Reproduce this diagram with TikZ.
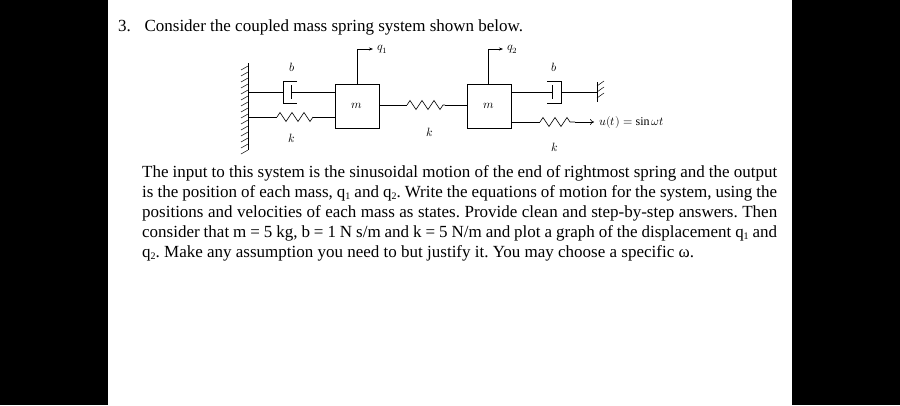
\documentclass[tikz,border=0pt]{standalone}
\usepackage{fontspec}
\setmainfont{Liberation Serif}
\usepackage{unicode-math}
\setmathfont{Latin Modern Math}
\usetikzlibrary{decorations.pathmorphing,arrows.meta}
\frenchspacing
\newcommand{\sbi}[1]{{\fontsize{10}{10}\selectfont\raisebox{-2pt}{#1}}}
\newcommand{\jline}[1]{\makebox[635pt][s]{#1}}
\begin{document}
\begin{tikzpicture}[x=1pt,y=-1pt,
  massbox/.style={draw,line width=0.6pt,minimum width=44pt,minimum height=44pt,inner sep=0pt,font=\fontsize{12}{12}\selectfont},
  ln/.style={line width=0.6pt},
  spr/.style={ln,decorate,decoration={zigzag,amplitude=4.5pt,segment length=12pt}},
  lab/.style={font=\fontsize{12}{12}\selectfont,inner sep=1pt},
  txt/.style={anchor=base west,inner sep=0pt,font=\fontsize{17}{20}\selectfont}]
\fill[black] (0,0) rectangle (900,405);
\fill[white] (108,0) rectangle (792,405);
\useasboundingbox (0,0) rectangle (900,405);
% text
\node[txt] (title) at (118,31) {3.\hspace{0.8em}Consider the coupled mass spring system shown below.};
\node[txt] (l1) at (142,177) {\jline{The input to this system is the sinusoidal motion of the end of rightmost spring and the output}};
\node[txt] (l2) at (142,197) {\jline{is the position of each mass, q\sbi1 and q\sbi2. Write the equations of motion for the system, using the}};
\node[txt] (l3) at (142,217) {\jline{positions and velocities of each mass as states. Provide clean and step-by-step answers. Then}};
\node[txt] (l4) at (142,237) {\jline{consider that m = 5 kg, b = 1 N s/m and k = 5 N/m and plot a graph of the displacement q\sbi1 and}};
\node[txt] (l5) at (142,257) {q\sbi2. Make any assumption you need to but justify it. You may choose a specific ω.};
% masses
\node[massbox] (m1) at (357,106) {$m$};
\node[massbox] (m2) at (489,106) {$m$};
% left wall
\coordinate (wt) at (248,63); \coordinate (wb) at (248,150);
\draw[ln] (wt) -- (wb);
\foreach \y in {66,72,...,150} \draw[line width=0.5pt] (248,\y) -- (241,\y+4);
% left damper
\coordinate (wd) at (248,92); \coordinate (dc1) at (283,92); \coordinate (dp1) at (291,92);
\draw[ln] (wd) -- (dc1);
\draw[ln] (297,81) -- (283,81) -- (283,103) -- (297,103);
\draw[ln] (291,85) -- (291,99);
\draw[ln] (dp1) -- (m1.west |- dp1);
\node[lab] (b1) at (292,67) {$b$};
% left spring
\coordinate (ws) at (248,117);
\draw[ln] (ws) -- (277,117);
\draw[spr] (277,117) -- (313,117);
\draw[ln] (313,117) -- (m1.west |- ws);
\node[lab] (k1) at (292,138) {$k$};
% middle spring
\draw[ln] (m1.east |- 0,105) -- (407,105);
\draw[spr] (407,105) -- (445,105);
\draw[ln] (445,105) -- (m2.west |- 0,105);
\node[lab] (k2) at (430,132) {$k$};
% q arrows
\coordinate (q1t) at (357,49); \coordinate (q2t) at (488,49);
\draw[ln,-{Stealth[length=4pt,width=3pt]}] (m1.north) -- (q1t) -- (373,49);
\node[lab,anchor=west] (q1) at (376,49) {$q_1$};
\draw[ln,-{Stealth[length=4pt,width=3pt]}] (m2.north -| q2t) -- (q2t) -- (503,49);
\node[lab,anchor=west] (q2) at (506,49) {$q_2$};
% right damper
\draw[ln] (m2.east |- 0,92) -- (552,92);
\draw[ln] (552,85) -- (552,99);
\draw[ln] (547,81) -- (561,81) -- (561,103) -- (547,103);
\coordinate (rw) at (597,92);
\draw[ln] (561,92) -- (rw);
\draw[ln] (597,82) -- (597,102);
\foreach \y in {86,92,98} \draw[line width=0.5pt] (597,\y) -- (604,\y-5);
\node[lab] (b2) at (554,67) {$b$};
% right spring
\coordinate (ue) at (594,122);
\draw[ln] (m2.east |- ue) -- (540,122);
\draw[spr] (540,122) -- (575,122);
\draw[ln,-{To[length=4pt,width=6pt]}] (575,122) -- (ue);
\node[lab,anchor=west] (u) at (598,122) {$u(t)=\sin\omega t$};
\node[lab] (k3) at (555,147) {$k$};
\end{tikzpicture}
\end{document}
